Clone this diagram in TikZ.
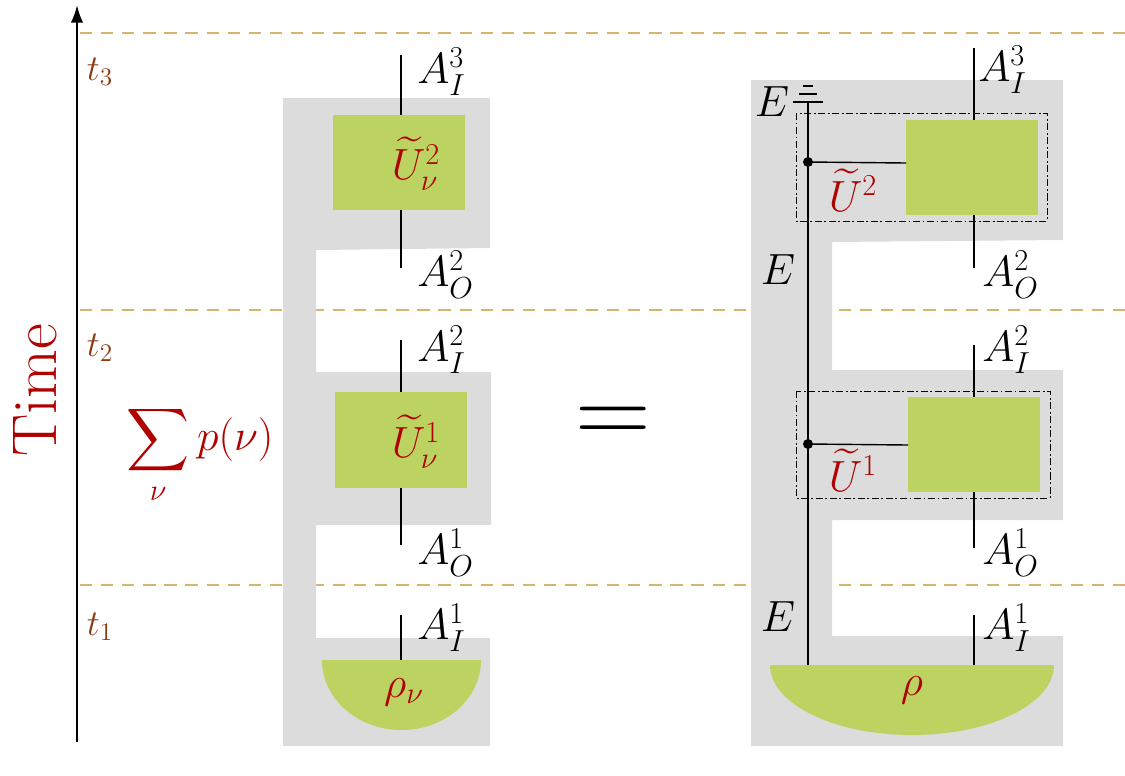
\documentclass[tikz,border=0pt]{standalone}
\usepackage{amsmath}
\usetikzlibrary{arrows.meta}
\begin{document}
\definecolor{gr}{HTML}{DCDCDC}
\definecolor{gn}{HTML}{BDD361}
\definecolor{rd}{HTML}{B00000}
\definecolor{tn}{HTML}{D7B46E}
\definecolor{br}{HTML}{8B3A0F}
\begin{tikzpicture}[x=0.02cm,y=-0.02cm,
 lab/.style={font=\fontsize{23}{26}\selectfont,inner sep=0pt},
 rlab/.style={font=\fontsize{23}{26}\selectfont,text=rd,inner sep=0pt},
 tlab/.style={font=\fontsize{21}{24}\selectfont,text=br,inner sep=0pt},
 wire/.style={line width=0.8pt},
 dd/.style={dash pattern=on 4pt off 1.5pt on 1pt off 1.5pt,line width=0.5pt}]
\useasboundingbox (0,0) rectangle (1125,775);
\foreach \y in {33,310,585} \draw[tn,line width=1.2pt,dash pattern=on 7pt off 5pt] (80,\y) -- (1125,\y);
\coordinate (tb) at (77,742); \coordinate (tt) at (77,5);
\draw[-{Latex[length=10pt,width=7pt]},line width=1.2pt] (tb) -- (tt);
\node[rotate=90,text=rd,font=\fontsize{36}{40}\selectfont] (time) at (35,390) {Time};
\node[tlab] (t3) at (100,72) {$t_3$};
\node[tlab] (t2) at (100,348) {$t_2$};
\node[tlab] (t1) at (100,627) {$t_1$};
\node[font=\fontsize{23}{26}\selectfont,text=rd] (sum) at (200,455) {$\displaystyle\sum_{\nu} p(\nu)$};
\node[font=\fontsize{24}{26}\selectfont,scale=2.4,inner sep=0pt] (eq) at (613,426) {$=$};
% left comb
\fill[gr] (283,98)--(490,98)--(490,248)--(316,250)--(316,372)--(491,372)--(491,525)--(316,525)--(316,638)--(490,638)--(490,746)--(283,746)--cycle;
\fill[gn] (333,115) rectangle (465,210);
\fill[gn] (335,392) rectangle (467,488);
\fill[gn] (322,660) arc[start angle=180,end angle=360,x radius=79.5,y radius=-70] -- cycle;
\node[rlab] (u2) at (416,164) {$\widetilde U_\nu^2$};
\node[rlab] (u1) at (416,442) {$\widetilde U_\nu^1$};
\node[rlab] (rn) at (404,692) {$\rho_\nu$};
\draw[wire] (401,55)--(401,115) (401,210)--(401,268) (401,340)--(401,392) (401,488)--(401,545) (401,615)--(401,660);
\node[lab,anchor=west] (a3) at (417,72) {$A_I^3$};
\node[lab,anchor=west] (a2o) at (417,275) {$A_O^2$};
\node[lab,anchor=west] (a2i) at (417,350) {$A_I^2$};
\node[lab,anchor=west] (a1o) at (417,553) {$A_O^1$};
\node[lab,anchor=west] (a1i) at (417,628) {$A_I^1$};
% right comb
\fill[gr] (751,80)--(1063,80)--(1063,240)--(832,242)--(832,370)--(1063,370)--(1063,520)--(832,520)--(832,636)--(1063,636)--(1063,746)--(751,746)--cycle;
\fill[gn] (906,120) rectangle (1038,215);
\fill[gn] (908,397) rectangle (1040,492);
\fill[gn] (770,665) arc[start angle=180,end angle=360,x radius=142,y radius=-70] -- cycle;
\draw[dd] (796,113) rectangle (1047,221);
\draw[dd] (796,391) rectangle (1050,498);
\draw[wire] (974,48)--(974,120) (974,215)--(974,268) (974,345)--(974,397) (974,492)--(974,548) (974,615)--(974,665);
\draw[wire] (808,102)--(808,665);
\draw[line width=1.5pt] (793,102)--(823,102) (799,94)--(817,94) (803,86)--(813,86);
\fill (808,162) circle (5); \draw[wire] (808,162)--(906,163);
\fill (808,444) circle (5); \draw[wire] (808,444)--(908,445);
\node[rlab] (ru2) at (853,190) {$\widetilde U^2$};
\node[rlab] (ru1) at (853,470) {$\widetilde U^1$};
\node[rlab] (rr) at (912,690) {$\rho$};
\node[lab] (e3) at (772,102) {$E$};
\node[lab] (e2) at (778,270) {$E$};
\node[lab] (e1) at (778,617) {$E$};
\node[lab,anchor=west] (b3) at (978,70) {$A_I^3$};
\node[lab,anchor=west] (b2o) at (982,275) {$A_O^2$};
\node[lab,anchor=west] (b2i) at (982,350) {$A_I^2$};
\node[lab,anchor=west] (b1o) at (982,553) {$A_O^1$};
\node[lab,anchor=west] (b1i) at (982,628) {$A_I^1$};
\end{tikzpicture}
\end{document}
